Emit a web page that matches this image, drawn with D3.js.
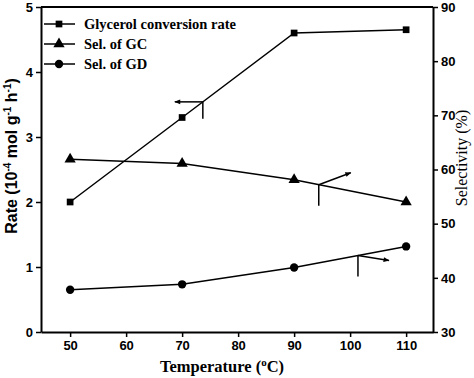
<!DOCTYPE html>
<html><head><meta charset="utf-8">
<script src="https://cdn.jsdelivr.net/npm/d3@7"></script>
<style>body{margin:0;background:#fff}</style>
</head><body><svg id="c" width="474" height="378"></svg>
<script>
const temps = [50, 70, 90, 110];
const conversionRate = [2.0, 3.3, 4.6, 4.65];
const selGC = [61.9, 61.1, 58.1, 54.0];
const selGD = [37.8, 38.8, 41.9, 45.8];
const xTicks = [50, 60, 70, 80, 90, 100, 110];
const yLeftTicks = [0, 1, 2, 3, 4, 5];
const yRightTicks = [30, 40, 50, 60, 70, 80, 90];
const legendLabels = ["Glycerol conversion rate", "Sel. of GC", "Sel. of GD"];

const svg = d3.select("#c");
const L = 41, R = 433, T = 7, B = 332;
const x = d3.scaleLinear().domain([44.8, 114.8]).range([L, R]);
const yL = d3.scaleLinear().domain([0, 5]).range([B, T]);
const yR = d3.scaleLinear().domain([30, 90]).range([B, T]);

const tickFont = "bold 13px 'Liberation Sans', Arial, sans-serif";

svg.append("line").attr("x1", L).attr("x2", R).attr("y1", T).attr("y2", T).attr("stroke", "#000").attr("stroke-width", 2);

const ax = svg.append("g").attr("transform", `translate(0,${B})`).call(d3.axisBottom(x).tickValues(xTicks).tickSize(5).tickSizeOuter(0).tickPadding(4));
const ayl = svg.append("g").attr("transform", `translate(${L},0)`).call(d3.axisLeft(yL).tickValues(yLeftTicks).tickSize(5).tickSizeOuter(0).tickPadding(3).tickFormat(d3.format("d")));
const ayr = svg.append("g").attr("transform", `translate(${R},0)`).call(d3.axisRight(yR).tickValues(yRightTicks).tickSize(5).tickSizeOuter(0).tickPadding(3));
[ax, ayl, ayr].forEach(g => {
  g.select(".domain").attr("stroke-width", 2);
  g.selectAll(".tick line").attr("stroke-width", 1.5);
  g.selectAll("text").style("font", tickFont).attr("fill", "#000");
});

function series(vals, yScale) {
  const line = d3.line().x((d, i) => x(temps[i])).y(d => yScale(d));
  svg.append("path").attr("d", line(vals)).attr("fill", "none").attr("stroke", "#000").attr("stroke-width", 1.5);
}
series(conversionRate, yL);
series(selGC, yR);
series(selGD, yR);

const sq = d3.symbol().type(d3.symbolSquare).size(45);
const tri = d3.symbol().type(d3.symbolTriangle).size(55);
const cir = d3.symbol().type(d3.symbolCircle).size(55);
svg.selectAll(".p1").data(conversionRate).join("path").attr("d", sq).attr("transform", (d, i) => `translate(${x(temps[i])},${yL(d)})`);
svg.selectAll(".p2").data(selGC).join("path").attr("d", tri).attr("transform", (d, i) => `translate(${x(temps[i])},${yR(d)})`);
svg.selectAll(".p3").data(selGD).join("path").attr("d", cir).attr("transform", (d, i) => `translate(${x(temps[i])},${yR(d)})`);

const defs = svg.append("defs");
defs.append("marker").attr("id", "ah").attr("viewBox", "0 0 10 10").attr("refX", 9).attr("refY", 5)
  .attr("markerWidth", 7).attr("markerHeight", 6).attr("markerUnits", "userSpaceOnUse").attr("orient", "auto")
  .append("path").attr("d", "M0,1 L10,5 L0,9 Z").attr("fill", "#000");
function pointer(tx, ty, dx, dy, down) {
  svg.append("line").attr("x1", tx).attr("y1", ty).attr("x2", tx).attr("y2", ty + down).attr("stroke", "#000").attr("stroke-width", 1.5);
  svg.append("line").attr("x1", tx).attr("y1", ty).attr("x2", tx + dx).attr("y2", ty + dy).attr("stroke", "#000").attr("stroke-width", 1.5).attr("marker-end", "url(#ah)");
}
const t1 = 73.7, v1 = 3.3 + (4.6 - 3.3) * (t1 - 70) / 20;
pointer(x(t1), yL(v1), -28, 0, 17);
const t2 = 94.4, v2 = 58.1 + (54.0 - 58.1) * (t2 - 90) / 20;
pointer(x(t2), yR(v2), 32, -12, 21);
const t3 = 101.4, v3 = 41.9 + (45.8 - 41.9) * (t3 - 90) / 20;
pointer(x(t3), yR(v3), 31, 5, 21);

const leg = svg.append("g");
const syms = [sq, tri, cir];
legendLabels.forEach((lab, i) => {
  const yy = 24 + i * 20;
  leg.append("line").attr("x1", 44).attr("x2", 75).attr("y1", yy).attr("y2", yy).attr("stroke", "#000").attr("stroke-width", 1.5);
  leg.append("path").attr("d", syms[i]).attr("transform", `translate(59,${yy})`);
  leg.append("text").attr("x", 84).attr("y", yy + 5).text(lab).style("font", "bold 14.5px 'Liberation Serif', 'Times New Roman', serif");
});

svg.append("text").attr("x", 222).attr("y", 372).attr("text-anchor", "middle")
  .style("font", "bold 16.5px 'Liberation Serif', 'Times New Roman', serif")
  .html("Temperature (<tspan dy='-6' font-size='11'>o</tspan><tspan dy='6'>C)</tspan>");
svg.append("text").attr("transform", "translate(17,156) rotate(-90)").attr("text-anchor", "middle")
  .style("font", "bold 16px 'Liberation Sans', Arial, sans-serif")
  .html("Rate (10<tspan dy='-6' font-size='10'>-4</tspan><tspan dy='6'> mol g</tspan><tspan dy='-6' font-size='10'>-1</tspan><tspan dy='6'> h</tspan><tspan dy='-6' font-size='10'>-1</tspan><tspan dy='6'>)</tspan>");
svg.append("text").attr("transform", "translate(467,158) rotate(-90)").attr("text-anchor", "middle")
  .style("font", "16px 'Liberation Serif', 'Times New Roman', serif")
  .text("Selectivity (%)");
</script></body></html>
